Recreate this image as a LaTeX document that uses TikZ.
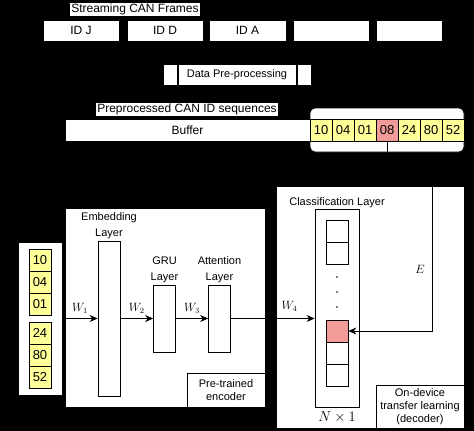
\documentclass[tikz,border=0pt]{standalone}
\usepackage{fontspec}
\setmainfont{Liberation Sans}
\usetikzlibrary{arrows.meta,positioning,calc}
\definecolor{cellyellow}{RGB}{255,255,153}
\definecolor{cellred}{RGB}{241,156,153}

\begin{document}
\begin{tikzpicture}[
  x=1pt,y=-1pt,
  every node/.style={inner sep=0pt,font=\fontsize{11}{13}\selectfont},
  box/.style={draw,fill=white,line width=0.75pt},
  frame/.style={box,minimum height=21pt,font=\fontsize{12}{14}\selectfont},
  tag/.style={fill=white,minimum height=13pt,font=\fontsize{12}{14}\selectfont},
  cell/.style={box,fill=cellyellow,minimum size=22pt,font=\fontsize{13}{15}\selectfont},
  slot/.style={box,minimum size=22pt},
  layer/.style={box,minimum width=22pt},
  caption/.style={align=center,font=\fontsize{11}{15.5}\selectfont},
  note/.style={box,align=center,font=\fontsize{11}{13}\selectfont},
  wlabel/.style={font=\fontsize{12}{14}\selectfont},
  arr/.style={line width=0.75pt,-{Stealth[length=8pt,width=7pt]}}]
  \fill[black] (0,0) rectangle (474,431);
  \useasboundingbox (0,0) rectangle (474,431);
  % streaming frames
  \node[tag,minimum width=130pt] (strm) at (135,9.5) {Streaming CAN Frames};
  \node[frame,minimum width=76pt] (fj) at (81,30.5) {ID J};
  \node[frame,minimum width=76pt] (fd) at (165,30.5) {ID D};
  \node[frame,minimum width=77pt] (fa) at (247.5,30.5) {ID A};
  \node[frame,minimum width=76pt] (f4) at (331,30.5) {};
  \node[frame,minimum width=66pt] (f5) at (409,30.5) {};
  % pre-processing
  \node[frame,minimum width=14pt] (prel) at (170,74.5) {};
  \node[frame,minimum width=118pt,font=\fontsize{11}{13}\selectfont] (pre) at (237,74.5) {Data Pre-processing};
  \node[frame,minimum width=14pt] (prer) at (304,74.5) {};
  % buffer
  \node[tag,minimum width=182pt] (seqlbl) at (187,109.5) {Preprocessed CAN ID sequences};
  \node[box,rounded corners=5pt,minimum width=154pt,minimum height=44pt] (win) at (387,130) {};
  \node[frame,minimum width=245pt,minimum height=22pt] (buf) at (187.5,130) {Buffer};
  \foreach \v/\x in {10/321,04/343,01/365,24/409,80/431,52/453}
    \node[cell] (b\v) at (\x,130) {\v};
  \node[cell,fill=cellred] (b08) at (387,130) {08};
  % input window
  \node[box,minimum width=44pt,minimum height=153pt] (inp) at (40,318.5) {};
  \foreach \v/\y in {10/260,04/282,01/304,24/333,80/355,52/377}
    \node[cell] (i\v) at (40,\y) {\v};
  % encoder
  \node[box,minimum width=200pt,minimum height=199pt] (enc) at (165,307.5) {};
  \node[layer,minimum height=155pt] (emb) at (109,318.5) {};
  \node[caption,above=2pt of emb] (emblbl) {Embedding\\Layer};
  \node[layer,minimum height=67pt] (gru) at (164.5,318.5) {};
  \node[caption,above=2pt of gru] (grulbl) {GRU\\Layer};
  \node[layer,minimum height=67pt] (att) at (219.5,318.5) {};
  \node[caption,above=2pt of att] (attlbl) {Attention\\Layer};
  \node[note,minimum width=78pt,minimum height=34pt] (enctag) at (226,390) {Pre-trained\\encoder};
  % decoder
  \node[box,minimum width=188pt,minimum height=242pt] (dec) at (370,307) {};
  \node (clslbl) at (337,203) {Classification Layer};
  \node[box,minimum width=44pt,minimum height=198pt] (cls) at (337,308) {};
  \foreach \n/\y in {1/231,2/253,4/353,5/375}
    \node[slot] (k\n) at (337,\y) {};
  \node[slot,fill=cellred] (k3) at (337,331) {};
  \foreach \y in {277,292,307}
    \fill (337,\y) circle (0.9pt);
  \node[font=\fontsize{14}{16}\selectfont] (dim) at (337,417) {$N\times 1$};
  \node[note,minimum width=88pt,minimum height=43pt] (dectag) at (420,406.5) {On-device\\transfer learning\\(decoder)};
  % connectors
  \draw[arr] (inp.east) -- (emb.west) node[midway,above=5pt,wlabel]{$W_1$};
  \draw[arr] (emb.east) -- (gru.west) node[midway,above=5pt,wlabel]{$W_2$};
  \draw[arr] (gru.east) -- (att.west) node[midway,above=5pt,wlabel]{$W_3$};
  \draw[arr] (att.east) -- (att.east -| cls.west) node[pos=0.7,above=7pt,wlabel]{$W_4$};
  \coordinate (bend) at (432,170);
  \draw[arr] (b08.south) |- (bend) |- (k3.east);
  \node[wlabel] (elbl) at (420,269) {$E$};
\end{tikzpicture}
\end{document}
